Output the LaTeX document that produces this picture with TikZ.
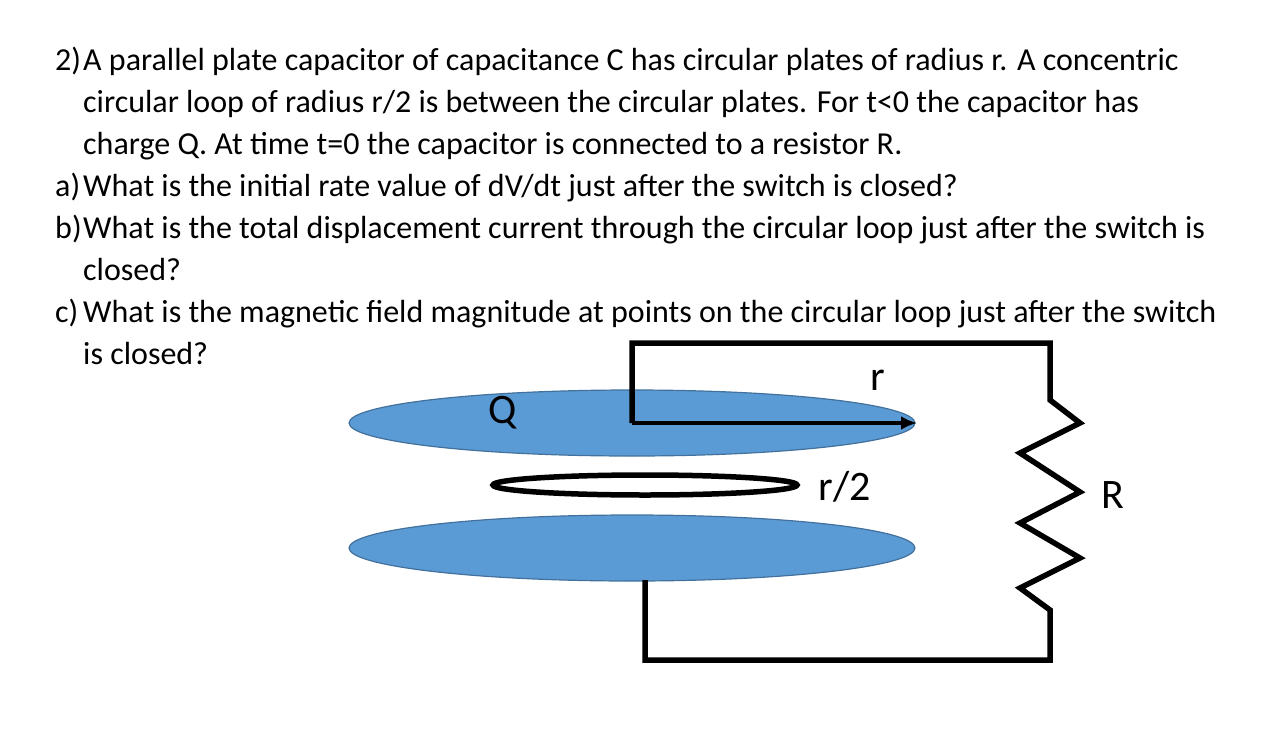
\documentclass[tikz,border=0pt]{standalone}
\usepackage{fontspec}
\setmainfont{Carlito}
\usetikzlibrary{arrows.meta}
\begin{document}
\begin{tikzpicture}[x=1pt,y=-1pt,
  txt/.style={anchor=base west,inner sep=0pt,font=\fontsize{32}{36}\selectfont},
  lbl/.style={font=\fontsize{42}{46}\selectfont},
  plate/.style={fill=plateblue,draw=plateedge,line width=1.2pt},
  wire/.style={line width=5.5pt,line join=miter}]
\definecolor{plateblue}{HTML}{5B9BD5}
\definecolor{plateedge}{HTML}{41719C}
\useasboundingbox (0,0) rectangle (1288,734);
\node[txt] (n2) at (55,70) {2)};
\node[txt] (l1) at (83,70) {A parallel plate capacitor of capacitance C has circular plates of radius r. A concentric};
\node[txt] (l2) at (83,112) {circular loop of radius r/2 is between the circular plates. For t<0 the capacitor has};
\node[txt] (l3) at (83,154) {charge Q. At time t=0 the capacitor is connected to a resistor R.};
\node[txt] (na) at (55,196) {a)};
\node[txt] (la) at (83,196) {What is the initial rate value of dV/dt just after the switch is closed?};
\node[txt] (nb) at (55,238) {b)};
\node[txt] (lb) at (83,238) {What is the total displacement current through the circular loop just after the switch is};
\node[txt] (lb2) at (83,280) {closed?};
\node[txt] (nc) at (55,322) {c)};
\node[txt] (lc) at (83,322) {What is the magnetic field magnitude at points on the circular loop just after the switch};
\node[txt] (lc2) at (83,364) {is closed?};
% plates
\draw[plate] (632,423) ellipse [x radius=283, y radius=33];
\draw[plate] (632,548) ellipse [x radius=283, y radius=33];
\draw[line width=5.5pt] (645,485) ellipse [x radius=152, y radius=10];
% circuit
\coordinate (top) at (632,423);
\coordinate (bot) at (645,580);
\draw[wire] (top) -- (632,343) -- (1050,343) -- (1050,400) -- (1080,423) -- (1020,453) -- (1080,492) -- (1020,523) -- (1080,558) -- (1020,588) -- (1050,610) -- (1050,660) -- (645,660) -- (bot);
\coordinate (rend) at (917,423);
\draw[line width=4pt,-{Latex[length=16pt,width=14pt]}] (top) -- (rend);
\node[lbl] (Q) at (503,413) {Q};
\node[lbl] (r) at (878,380) {r};
\node[lbl] (r2) at (845,487) {r/2};
\node[lbl] (R) at (1113,495) {R};
\end{tikzpicture}
\end{document}
